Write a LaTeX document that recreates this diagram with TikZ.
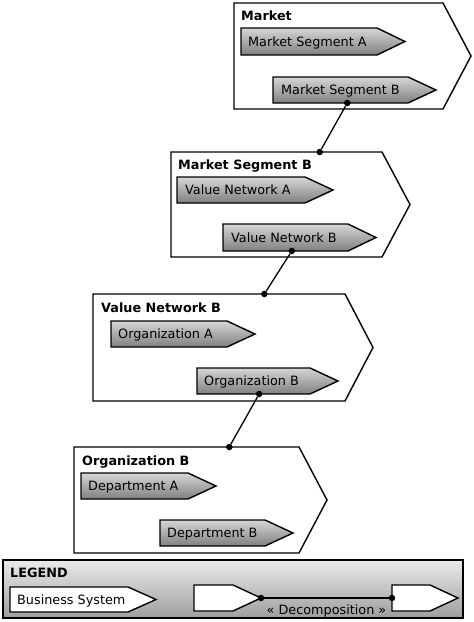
\documentclass[tikz,border=0pt]{standalone}
\usepackage{fontspec}
\setmainfont{DejaVu Sans}
\usetikzlibrary{positioning,calc}

% business system: name, left, top, body width, height
\newcommand{\bsys}[6][]{%
  \draw[#1] (#3,#4) coordinate (#2-nw) -- ++(#5,0) coordinate (#2-ne)
    -- ++(28,#6/2) coordinate (#2-tip) -- ++(-28,#6/2) coordinate (#2-se)
    -- ++(-#5,0) coordinate (#2-sw) -- cycle;
  \coordinate (#2-w) at ($(#2-nw)!.5!(#2-sw)$);}

\begin{document}
\begin{tikzpicture}[x=1pt,y=-1pt,
font=\fontsize{12.8}{15}\selectfont,
sysbox/.style={
  draw,
  line width=1.4pt,
  fill=white},
subsys/.style={
  draw,
  line width=1.4pt,
  top color=black!16,
  bottom color=black!50},
lbl/.style={
  inner sep=0pt,
  text height=9pt,
  text depth=0pt},
ttl/.style={
  lbl,
  font=\fontsize{12.8}{15}\selectfont\bfseries},
mydot/.style={
  circle,
  fill=black,
  inner sep=0pt,
  minimum size=6.5pt}
]
\useasboundingbox (0,0) rectangle (474,622);
% systems
\bsys[sysbox]{mkt}{234}{3}{209}{106}
\bsys[sysbox]{msbox}{171}{152}{211}{105}
\bsys[sysbox]{vnbox}{93}{294}{252}{107}
\bsys[sysbox]{orgbox}{74}{447}{225}{106}
% parts
\bsys[subsys]{msA}{241}{28}{136}{27}
\bsys[subsys]{msB}{273}{77}{135}{26}
\bsys[subsys]{vnA}{177}{177}{128}{26}
\bsys[subsys]{vnB}{223}{224}{125}{27}
\bsys[subsys]{orgA}{111}{321}{116}{26}
\bsys[subsys]{orgB}{197}{368}{113}{26}
\bsys[subsys]{depA}{81}{473}{107}{26}
\bsys[subsys]{depB}{160}{520}{105}{26}
  \node [ttl, below right=8pt and 7pt of mkt-nw] (mktT) {Market};
  \node [ttl, below right=8pt and 7pt of msbox-nw] (msboxT) {Market Segment B};
  \node [ttl, below right=9pt and 8pt of vnbox-nw] (vnboxT) {Value Network B};
  \node [ttl, below right=9pt and 8pt of orgbox-nw] (orgboxT) {Organization B};
  \node [lbl, right=7pt of msA-w] (msAT) {Market Segment A};
  \node [lbl, right=8pt of msB-w] (msBT) {Market Segment B};
  \node [lbl, right=8pt of vnA-w] (vnAT) {Value Network A};
  \node [lbl, right=8pt of vnB-w] (vnBT) {Value Network B};
  \node [lbl, right=7pt of orgA-w] (orgAT) {Organization A};
  \node [lbl, right=7pt of orgB-w] (orgBT) {Organization B};
  \node [lbl, right=7pt of depA-w] (depAT) {Department A};
  \node [lbl, right=7pt of depB-w] (depBT) {Department B};
% decomposition links
\foreach \a/\fa/\b/\fb in {msB/.55/msbox/.705,vnB/.55/vnbox/.68,orgB/.55/orgbox/.69}
{
  \node[mydot] (\a-d) at ($(\a-sw)!\fa!(\a-se)$) {};
  \node[mydot] (\b-d) at ($(\b-nw)!\fb!(\b-ne)$) {};
  \draw[line width=1.3pt] (\a-d) -- (\b-d);
}
% legend
\draw[line width=1.4pt, top color=black!8, bottom color=black!38]
  (3,560) coordinate (leg-nw) rectangle (463,618);
  \node [ttl, below right=8pt and 7pt of leg-nw] (legT) {LEGEND};
\bsys[sysbox]{bs}{10}{587}{118}{25}
  \node [lbl, right=7pt of bs-w] (bsT) {Business System};
\bsys[sysbox]{lgA}{194}{585}{39}{26}
\bsys[sysbox]{lgB}{392}{585}{38}{26}
\node[mydot] (lgA-d) at (lgA-tip) {};
\node[mydot] (lgB-d) at (lgB-w) {};
\draw[line width=1.3pt] (lgA-d) -- (lgB-d);
\coordinate (lgmid) at ($(lgA-d)!.5!(lgB-d)$);
  \node [lbl, below=7pt of lgmid] (decT) {« Decomposition »};
\end{tikzpicture}
\end{document}
